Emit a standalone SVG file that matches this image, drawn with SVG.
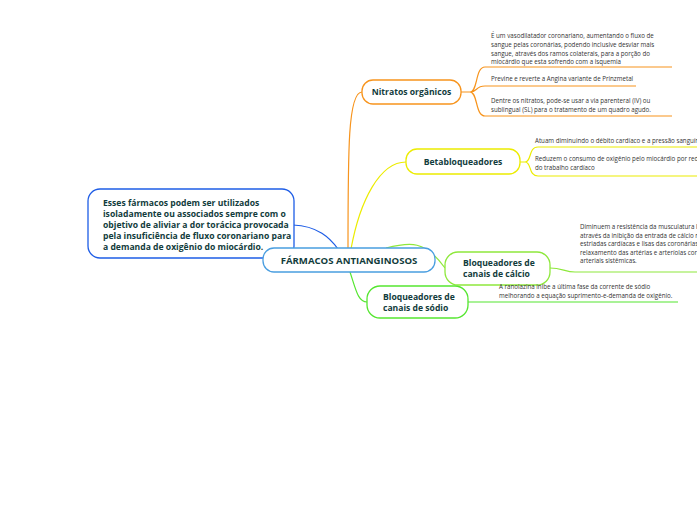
<svg xmlns="http://www.w3.org/2000/svg" width="697" height="520" viewBox="0 0 697 520">
<style>
.t{font-family:"Open Sans","Liberation Sans",sans-serif;font-size:6.2px;fill:#333}
.b{font-family:"Open Sans","Liberation Sans",sans-serif;font-size:8.6px;font-weight:bold;fill:#123c3c}
.n{fill:#fff;stroke-width:1.3}
.c{fill:none;stroke-width:1.2}
</style>
<rect width="697" height="520" fill="#fff"/>
<g id="connectors">
<path class="c" stroke="#1e5de6" d="M293 225 C318 226 330 238 338 249"/>
<path class="c" stroke="#f7941d" stroke-width="2" d="M348 249 C348 150 348 92 362 92"/>
<path class="c" stroke="#ecec00" stroke-width="1.5" d="M351 249 C360 200 380 162 406 162"/>
<path class="c" stroke="#8ee83c" d="M386 248 C410 242 425 240 445 268"/>
<path class="c" stroke="#55e630" d="M350 272 C356 290 358 302 367 302"/>
<path class="c" stroke="#f7941d" d="M461 92 H470 M470 92 C478 92 475 67 485 67 H672 M470 92 C478 92 475 86 485 86 H636 M470 92 C478 92 475 116 485 116 H672"/>
<path class="c" stroke="#ecec00" stroke-width="1.5" d="M520 162 H525 M525 162 C532 162 528 147 538 147 H697 M525 162 C532 162 528 176 538 176 H697"/>
<path class="c" stroke="#8ee83c" stroke-width="1.5" d="M550 268 C562 268 565 272 575 272 H697"/>
<path class="c" stroke="#55e630" stroke-width="1.5" d="M468 302 H678"/>
</g>
<g id="leftnode"><rect class="n" stroke="#1e5de6" x="88" y="189" width="206" height="69" rx="12"/>
<text class="b" x="103" y="206">Esses fármacos podem ser utilizados</text>
<text class="b" x="103" y="217">isoladamente ou associados sempre com o</text>
<text class="b" x="103" y="228">objetivo de aliviar a dor torácica provocada</text>
<text class="b" x="103" y="239">pela insuficiência de fluxo coronariano para</text>
<text class="b" x="103" y="250">a demanda de oxigênio do miocárdio.</text></g>
<g id="main"><rect class="n" stroke="#4a9ee0" x="263" y="248" width="172" height="24" rx="11"/>
<text class="b" x="349" y="263.5" text-anchor="middle" style="font-size:9.6px">FÁRMACOS ANTIANGINOSOS</text></g>
<g id="nitratos"><rect class="n" stroke="#f7941d" x="362" y="80" width="99" height="24" rx="11"/>
<text class="b" x="411.5" y="95" text-anchor="middle">Nitratos orgânicos</text>
<text class="t" x="491" y="38">É um vasodilatador coronariano, aumentando o fluxo de</text>
<text class="t" x="491" y="47">sangue pelas coronárias, podendo inclusive desviar mais</text>
<text class="t" x="491" y="56">sangue, através dos ramos colaterais, para a porção do</text>
<text class="t" x="491" y="64">miocárdio que esta sofrendo com a isquemia</text>
<text class="t" x="491" y="81">Previne e reverte a Angina variante de Prinzmetal</text>
<text class="t" x="491" y="103">Dentre os nitratos, pode-se usar a via parenteral (IV) ou</text>
<text class="t" x="491" y="112">sublingual (SL) para o tratamento de um quadro agudo.</text></g>
<g id="beta"><rect class="n" stroke="#ecec00" x="406" y="149" width="114" height="25" rx="11"/>
<text class="b" x="463" y="165" text-anchor="middle">Betabloqueadores</text>
<text class="t" x="535" y="143">Atuam diminuindo o débito cardíaco e a pressão sanguínea</text>
<text class="t" x="535" y="161">Reduzem o consumo de oxigênio pelo miocárdio por redução</text>
<text class="t" x="535" y="170">do trabalho cardíaco</text></g>
<g id="calcio"><rect class="n" stroke="#8ee83c" x="445" y="252" width="105" height="33" rx="13"/>
<text class="b" x="463" y="266">Bloqueadores de</text>
<text class="b" x="463" y="277">canais de cálcio</text>
<text class="t" x="580" y="229">Diminuem a resistência da musculatura lisa</text>
<text class="t" x="580" y="237.5">através da inibição da entrada de cálcio nas</text>
<text class="t" x="580" y="246">estriadas cardíacas e lisas das coronárias</text>
<text class="t" x="580" y="254.5">relaxamento das artérias e arteríolas coronárias</text>
<text class="t" x="580" y="263">arteriais sistêmicas.</text></g>
<g id="sodio"><rect class="n" stroke="#55e630" x="367" y="286" width="101" height="32" rx="13"/>
<text class="b" x="383" y="300">Bloqueadores de</text>
<text class="b" x="383" y="311">canais de sódio</text>
<text class="t" x="499" y="289">A ranolazina inibe a última fase da corrente de sódio</text>
<text class="t" x="499" y="297.5">melhorando a  equação suprimento-e-demanda de oxigênio.</text></g>
</svg>
